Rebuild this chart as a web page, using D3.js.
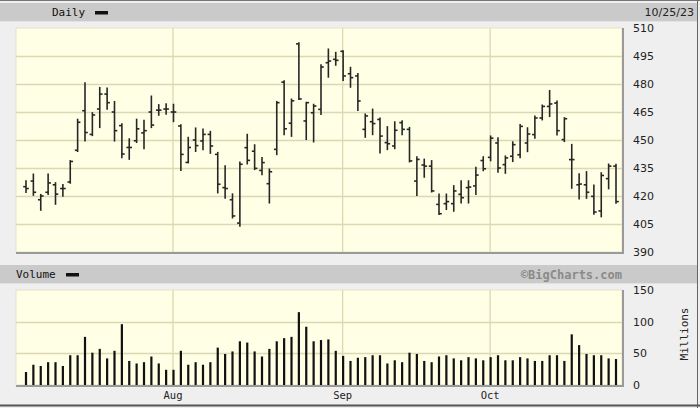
<!DOCTYPE html>
<html>
<head>
<meta charset="utf-8">
<script src="https://cdn.jsdelivr.net/npm/d3@7"></script>
<style>
  html, body { margin: 0; padding: 0; background: #efefef; }
  svg { display: block; }
</style>
</head>
<body>
<svg id="chart" width="700" height="408"></svg>
<script>
// daily OHLC, Jul 3 - Oct 25 2023 (81 sessions)
const highs = [428, 431.6, 420.7, 431.6, 427, 426, 438.8, 461, 480.5, 464.5, 478, 477.7, 470.5, 458.6, 450.5, 461, 460.4, 473.4, 468.8, 469.3,
  469, 458, 451.3, 456.3, 455.7, 454.5, 443.2, 436, 421, 438, 452.9, 447.3, 440.5, 434.3, 470.5, 481.6, 471.8, 502, 470, 469, 490.2, 498.6, 496.8,
  497.7, 488.8, 485.5, 463.8, 466.4, 461.6, 457, 459.6, 460.2, 456.6, 440.9, 439.6, 438.8, 420.9, 420.9, 425.4, 428, 428, 435.2, 440.9,
  452, 451, 441.3, 448.9, 458.2, 456.4, 462.7, 468.6, 476.4, 470.7, 461.8, 447.5, 431.8, 432.9, 425.7, 432.3, 437, 436.8];
const lows = [422, 420.5, 412.5, 421, 415.7, 420, 427, 444, 449.6, 452.5, 456.8, 466.6, 449.6, 440.7, 439.8, 448.8, 445.5, 456.8, 463.4, 464,
  460, 433.8, 437.9, 444, 445, 443, 421.8, 419, 408.4, 404, 437.3, 434.3, 431.6, 416.4, 442.3, 453, 452.1, 471.8, 450.4, 449.1, 463.8, 483.8, 490.2,
  482, 478.4, 465.9, 451.6, 453, 443.2, 445, 445.5, 453, 438.4, 420.4, 430.2, 422.3, 410.2, 412.9, 412, 416.4, 416.4, 420.9, 433.7,
  439, 432.9, 432.3, 438.6, 440.7, 443.9, 451.1, 460.9, 462.7, 452.9, 449.3, 424.3, 418.6, 418.9, 410.4, 409, 424, 416.3];
const opens = [425, 428, 418, 422, 426, 424, 427.5, 444.5, 465.7, 453, 466.6, 474.6, 465, 457.7, 446, 449.6, 453.8, 465, 466, 466.6,
  465, 457.5, 438, 450, 449.5, 453, 442.3, 424.5, 418, 405.5, 445.9, 444, 433.7, 426.6, 445, 481, 459, 501.5, 460.2, 464.6, 466.4, 491.4, 493.2,
  497.5, 485.5, 484.3, 455.7, 459.8, 461, 448.6, 446.8, 459.3, 455.7, 428, 436.6, 436, 415.5, 415.9, 415.9, 420.9, 424.5, 425.4, 439,
  440.7, 448.4, 436.8, 441.3, 442.1, 448.4, 452.9, 461.8, 468, 469.8, 450.2, 439.5, 426, 426, 419.8, 412, 429.3, 436];
const closes = [424, 422, 420, 427, 421, 424, 438.5, 459.5, 454, 463.4, 474.6, 470, 455, 442.5, 446, 456, 455, 458, 466, 466.6,
  465, 442.3, 446, 447, 453, 446.8, 426.3, 424, 409.3, 437, 439.1, 434.8, 437.9, 433, 470, 456, 471, 472, 470, 468.2, 489.1, 492.3, 492.7,
  484.3, 483.4, 470.9, 462.9, 458.8, 452.1, 448, 455.2, 455.7, 438.8, 439.6, 436, 422.7, 410.5, 417, 422.7, 419.1, 424.8, 431.2, 434.6,
  451, 435, 440.4, 447.5, 457.3, 453.2, 461.8, 468, 469.3, 455, 461.4, 439.5, 426.4, 422, 411.4, 431, 436, 417];
// volume, millions
const volumes = [20.5, 32, 30, 36, 36, 30, 47, 47, 76, 51, 57, 42, 54, 96, 38, 34, 36, 45, 34, 24,
  24, 54, 32, 36, 32, 36, 59, 49, 53, 69, 67, 53, 45, 57, 69, 74, 76, 115, 92, 69, 71, 72, 54,
  46, 38, 43, 44, 47, 47, 34, 39, 36, 51, 49, 38, 36, 45, 47, 42, 39, 44, 42, 39,
  44, 47, 39, 39, 44, 42, 38, 38, 47, 47, 38, 80, 63, 49, 47, 47, 42, 41];
// month labels and the session index where each month starts
const months = ['Aug', 'Sep', 'Oct'];
const monthStarts = [20, 43, 63];
const priceTicks = [390, 405, 420, 435, 450, 465, 480, 495, 510];
const volumeTicks = [0, 50, 100, 150];

const svg = d3.select('#chart');
const plotL = 16, plotR = 622;
const monoFont = '"DejaVu Sans Mono", monospace';
const sansFont = '"DejaVu Sans", Verdana, sans-serif';

const x = d3.scalePoint().domain(d3.range(volumes.length)).range([26, 616]);
const yPrice = d3.scaleLinear().domain([390, 510]).range([252, 28]);
const yVol = d3.scaleLinear().domain([0, 150]).range([385, 290]);

// outer frame
svg.append('rect').attr('x', 0).attr('y', 0).attr('width', 700).attr('height', 408).attr('fill', '#efefef');
svg.append('line').attr('x1', 0).attr('x2', 700).attr('y1', 0.5).attr('y2', 0.5).attr('stroke', '#777');
svg.append('line').attr('x1', 697.5).attr('x2', 697.5).attr('y1', 0).attr('y2', 408).attr('stroke', '#666');
svg.append('line').attr('x1', 0).attr('x2', 700).attr('y1', 405.5).attr('y2', 405.5).attr('stroke', '#555').attr('stroke-width', 2);

// header bars
function headerBar(y0, h, label, swatchX) {
    svg.append('rect').attr('x', 0).attr('y', y0).attr('width', 697).attr('height', h).attr('fill', '#cacaca');
    svg.append('line').attr('x1', 0).attr('x2', 697).attr('y1', y0 + h + 0.5).attr('y2', y0 + h + 0.5).attr('stroke', '#e2e2e2');
    const t = svg.append('text').attr('x', label.x).attr('y', y0 + 13)
        .style('font-family', monoFont).style('font-size', '11px').style('fill', '#111').text(label.text);
    svg.append('rect').attr('x', swatchX).attr('y', y0 + 8).attr('width', 13).attr('height', 3.5).attr('fill', '#111');
}
headerBar(3, 18, { x: 52, text: 'Daily' }, 95);
headerBar(265, 18, { x: 16, text: 'Volume' }, 66);

svg.append('text').attr('x', 694).attr('y', 16).attr('text-anchor', 'end')
    .style('font-family', sansFont).style('font-size', '11px').style('fill', '#222').text('10/25/23');
svg.append('text').attr('x', 622).attr('y', 279).attr('text-anchor', 'end')
    .style('font-family', monoFont).style('font-size', '12px').style('font-weight', 'bold')
    .style('fill', '#8a8a8a').text('\u00A9BigCharts.com');

// plot panels
function panel(yScale, ticks) {
    const [yb, yt] = yScale.range();
    svg.append('rect').attr('x', plotL).attr('y', yt).attr('width', plotR - plotL).attr('height', yb - yt)
        .attr('fill', '#ffffe6').attr('stroke', '#e4e2cc');
    svg.append('g').selectAll('line').data(ticks.filter(t => yScale(t) > yt + 1 && yScale(t) < yb - 1)).join('line')
        .attr('x1', plotL).attr('x2', plotR)
        .attr('y1', d => Math.round(yScale(d)) + 0.5).attr('y2', d => Math.round(yScale(d)) + 0.5)
        .attr('stroke', '#dcd8b2').attr('stroke-width', 1.3);
    svg.append('g').selectAll('line').data(monthStarts).join('line')
        .attr('x1', d => x(d) - 0.5).attr('x2', d => x(d) - 0.5)
        .attr('y1', yt).attr('y2', yb)
        .attr('stroke', '#dcd8b2').attr('stroke-width', 1.3);
    // shadow on right / bottom
    svg.append('path').attr('d', `M${plotL},${yb + 1}H${plotR + 1}V${yt}`)
        .attr('fill', 'none').attr('stroke', '#9a9a9a').attr('stroke-width', 2);
    const axis = d3.axisRight(yScale).tickValues(ticks).tickSize(0).tickPadding(0);
    const g = svg.append('g').attr('transform', `translate(633,0)`).call(axis);
    g.select('.domain').remove();
    g.selectAll('text').style('font-family', sansFont).style('font-size', '11px').style('fill', '#222');
}
panel(yPrice, priceTicks);
panel(yVol, volumeTicks);

// OHLC bars
const idx = d3.range(highs.length);
const ohlc = svg.append('g').attr('stroke', '#262626').attr('stroke-width', 1.6);
ohlc.selectAll('line.hl').data(idx).join('line').attr('class', 'hl')
    .attr('x1', d => x(d)).attr('x2', d => x(d))
    .attr('y1', d => yPrice(highs[d]) - 0.8).attr('y2', d => yPrice(lows[d]) + 0.8);
ohlc.selectAll('line.op').data(idx).join('line').attr('class', 'op')
    .attr('x1', d => x(d) - 2.8).attr('x2', d => x(d))
    .attr('y1', d => yPrice(opens[d])).attr('y2', d => yPrice(opens[d]));
ohlc.selectAll('line.cl').data(idx).join('line').attr('class', 'cl')
    .attr('x1', d => x(d)).attr('x2', d => x(d) + 2.8)
    .attr('y1', d => yPrice(closes[d])).attr('y2', d => yPrice(closes[d]));

// volume bars
svg.append('g').selectAll('rect').data(volumes).join('rect')
    .attr('x', (d, i) => x(i) - 1.1).attr('width', 2.2)
    .attr('y', d => yVol(d)).attr('height', d => yVol(0) - yVol(d))
    .attr('fill', '#111');

// month labels
svg.append('g').selectAll('text').data(months).join('text')
    .attr('x', (d, i) => x(monthStarts[i]) - 0.5).attr('y', 399).attr('text-anchor', 'middle')
    .style('font-family', monoFont).style('font-size', '10.5px').style('fill', '#222')
    .text(d => d);

svg.append('text').attr('transform', 'translate(688,334) rotate(-90)').attr('text-anchor', 'middle')
    .style('font-family', monoFont).style('font-size', '11px').style('fill', '#222').text('Millions');
</script>
</body>
</html>
